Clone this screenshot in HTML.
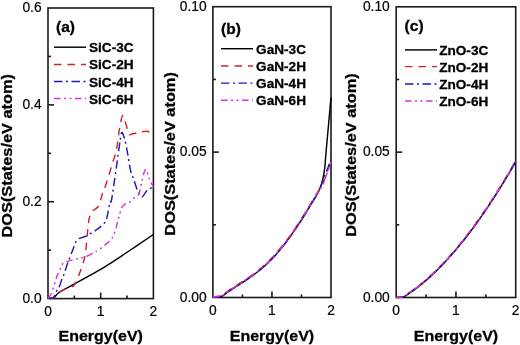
<!DOCTYPE html>
<html><head><meta charset="utf-8"><style>
html,body{margin:0;padding:0;background:#fff;}
svg{display:block;}
.t{font-family:"Liberation Sans",Arial,sans-serif;font-size:13.8px;fill:#000;stroke:#000;stroke-width:0.2px;}
.lg{font-family:"Liberation Sans",Arial,sans-serif;font-size:13.6px;font-weight:bold;fill:#000;stroke:#000;stroke-width:0.3px;}
.pl{font-family:"Liberation Sans",Arial,sans-serif;font-size:15.5px;font-weight:bold;fill:#000;stroke:#000;stroke-width:0.3px;}
.ti{font-family:"Liberation Sans",Arial,sans-serif;font-size:16.0px;font-weight:bold;fill:#000;stroke:#000;stroke-width:0.3px;}
</style></head><body>
<svg width="520" height="345" viewBox="0 0 520 345">
<rect width="520" height="345" fill="#fff"/>
<rect x="48" y="8" width="105.40" height="290.60" fill="none" stroke="#1a1a1a" stroke-width="1.6"/>
<line x1="74.35" y1="298.6" x2="74.35" y2="295.6" stroke="#1a1a1a" stroke-width="1.6"/>
<line x1="100.70" y1="298.6" x2="100.70" y2="292.6" stroke="#1a1a1a" stroke-width="1.6"/>
<line x1="127.05" y1="298.6" x2="127.05" y2="295.6" stroke="#1a1a1a" stroke-width="1.6"/>
<line x1="48" y1="201.73" x2="54" y2="201.73" stroke="#1a1a1a" stroke-width="1.6"/>
<line x1="48" y1="104.87" x2="54" y2="104.87" stroke="#1a1a1a" stroke-width="1.6"/>
<line x1="48" y1="250.17" x2="51" y2="250.17" stroke="#1a1a1a" stroke-width="1.6"/>
<line x1="48" y1="153.30" x2="51" y2="153.30" stroke="#1a1a1a" stroke-width="1.6"/>
<line x1="48" y1="56.43" x2="51" y2="56.43" stroke="#1a1a1a" stroke-width="1.6"/>
<text x="41.6" y="302.80" text-anchor="end" class="t">0.0</text>
<text x="41.6" y="205.93" text-anchor="end" class="t">0.2</text>
<text x="41.6" y="109.07" text-anchor="end" class="t">0.4</text>
<text x="41.6" y="12.20" text-anchor="end" class="t">0.6</text>
<text x="48.00" y="315.80" text-anchor="middle" class="t">0</text>
<text x="100.70" y="315.80" text-anchor="middle" class="t">1</text>
<text x="153.40" y="315.80" text-anchor="middle" class="t">2</text>
<text transform="translate(100.70,341.40) scale(1,0.95)" text-anchor="middle" class="ti">Energy(eV)</text>
<rect x="212.9" y="6.7" width="118.10" height="290.80" fill="none" stroke="#1a1a1a" stroke-width="1.6"/>
<line x1="242.43" y1="297.5" x2="242.43" y2="294.5" stroke="#1a1a1a" stroke-width="1.6"/>
<line x1="271.95" y1="297.5" x2="271.95" y2="291.5" stroke="#1a1a1a" stroke-width="1.6"/>
<line x1="301.48" y1="297.5" x2="301.48" y2="294.5" stroke="#1a1a1a" stroke-width="1.6"/>
<line x1="212.9" y1="152.10" x2="218.9" y2="152.10" stroke="#1a1a1a" stroke-width="1.6"/>
<line x1="212.9" y1="224.80" x2="215.9" y2="224.80" stroke="#1a1a1a" stroke-width="1.6"/>
<line x1="212.9" y1="79.40" x2="215.9" y2="79.40" stroke="#1a1a1a" stroke-width="1.6"/>
<text x="206.6" y="301.70" text-anchor="end" class="t">0.00</text>
<text x="206.6" y="156.30" text-anchor="end" class="t">0.05</text>
<text x="206.6" y="10.90" text-anchor="end" class="t">0.10</text>
<text x="212.90" y="314.70" text-anchor="middle" class="t">0</text>
<text x="271.95" y="314.70" text-anchor="middle" class="t">1</text>
<text x="331.00" y="314.70" text-anchor="middle" class="t">2</text>
<text transform="translate(271.95,341.40) scale(1,0.95)" text-anchor="middle" class="ti">Energy(eV)</text>
<rect x="396.2" y="6.8" width="119.50" height="290.70" fill="none" stroke="#1a1a1a" stroke-width="1.6"/>
<line x1="426.07" y1="297.5" x2="426.07" y2="294.5" stroke="#1a1a1a" stroke-width="1.6"/>
<line x1="455.95" y1="297.5" x2="455.95" y2="291.5" stroke="#1a1a1a" stroke-width="1.6"/>
<line x1="485.83" y1="297.5" x2="485.83" y2="294.5" stroke="#1a1a1a" stroke-width="1.6"/>
<line x1="396.2" y1="152.15" x2="402.2" y2="152.15" stroke="#1a1a1a" stroke-width="1.6"/>
<line x1="396.2" y1="224.82" x2="399.2" y2="224.82" stroke="#1a1a1a" stroke-width="1.6"/>
<line x1="396.2" y1="79.48" x2="399.2" y2="79.48" stroke="#1a1a1a" stroke-width="1.6"/>
<text x="389.8" y="301.70" text-anchor="end" class="t">0.00</text>
<text x="389.8" y="156.35" text-anchor="end" class="t">0.05</text>
<text x="389.8" y="11.00" text-anchor="end" class="t">0.10</text>
<text x="396.20" y="314.70" text-anchor="middle" class="t">0</text>
<text x="455.95" y="314.70" text-anchor="middle" class="t">1</text>
<text x="515.70" y="314.70" text-anchor="middle" class="t">2</text>
<text transform="translate(455.95,341.40) scale(1,0.95)" text-anchor="middle" class="ti">Energy(eV)</text>
<text transform="translate(11.7,155.8) rotate(-90) scale(1,0.94)" text-anchor="middle" class="ti" style="font-size:16.35px">DOS(States/eV atom)</text>
<text transform="translate(174.9,153.9) rotate(-90) scale(1,0.94)" text-anchor="middle" class="ti" style="font-size:16.35px">DOS(States/eV atom)</text>
<text transform="translate(356.4,155.0) rotate(-90) scale(1,0.94)" text-anchor="middle" class="ti" style="font-size:16.35px">DOS(States/eV atom)</text>
<text x="56" y="31.8" class="pl">(a)</text>
<text x="221" y="33.8" class="pl">(b)</text>
<text x="404.6" y="31.2" class="pl">(c)</text>
<line x1="54" y1="47.2" x2="86" y2="47.2" stroke="#000000" stroke-width="1.45" stroke-dasharray="none"/>
<text x="89.0" y="52.20" class="lg">SiC-3C</text>
<line x1="54" y1="64.4" x2="86" y2="64.4" stroke="#cc2434" stroke-width="1.45" stroke-dasharray="7.5 6"/>
<text x="89.0" y="69.40" class="lg">SiC-2H</text>
<line x1="54" y1="81.5" x2="86" y2="81.5" stroke="#1c1cb4" stroke-width="1.45" stroke-dasharray="8.5 3.5 2 3.5"/>
<text x="89.0" y="86.50" class="lg">SiC-4H</text>
<line x1="54" y1="98.5" x2="86" y2="98.5" stroke="#d434d4" stroke-width="1.45" stroke-dasharray="6.5 3.5 2 3.5 2 3.5"/>
<text x="89.0" y="103.50" class="lg">SiC-6H</text>
<line x1="221" y1="48.7" x2="253" y2="48.7" stroke="#000000" stroke-width="1.45" stroke-dasharray="none"/>
<text x="256.09999999999997" y="53.70" class="lg">GaN-3C</text>
<line x1="221" y1="66.0" x2="253" y2="66.0" stroke="#cc2434" stroke-width="1.45" stroke-dasharray="7.5 6"/>
<text x="256.09999999999997" y="71.00" class="lg">GaN-2H</text>
<line x1="221" y1="83.1" x2="253" y2="83.1" stroke="#1c1cb4" stroke-width="1.45" stroke-dasharray="8.5 3.5 2 3.5"/>
<text x="256.09999999999997" y="88.10" class="lg">GaN-4H</text>
<line x1="221" y1="100.2" x2="253" y2="100.2" stroke="#d434d4" stroke-width="1.45" stroke-dasharray="6.5 3.5 2 3.5 2 3.5"/>
<text x="256.09999999999997" y="105.20" class="lg">GaN-6H</text>
<line x1="405" y1="49.9" x2="437" y2="49.9" stroke="#000000" stroke-width="1.45" stroke-dasharray="none"/>
<text x="439.2" y="54.90" class="lg">ZnO-3C</text>
<line x1="405" y1="66.6" x2="437" y2="66.6" stroke="#cc2434" stroke-width="1.45" stroke-dasharray="7.5 6"/>
<text x="439.2" y="71.60" class="lg">ZnO-2H</text>
<line x1="405" y1="83.9" x2="437" y2="83.9" stroke="#1c1cb4" stroke-width="1.45" stroke-dasharray="8.5 3.5 2 3.5"/>
<text x="439.2" y="88.90" class="lg">ZnO-4H</text>
<line x1="405" y1="100.9" x2="437" y2="100.9" stroke="#d434d4" stroke-width="1.45" stroke-dasharray="6.5 3.5 2 3.5 2 3.5"/>
<text x="439.2" y="105.90" class="lg">ZnO-6H</text>
<path d="M48.20,298.30 C49.13,298.20 52.00,298.67 53.80,297.70 C55.60,296.73 56.30,294.38 59.00,292.50 C61.70,290.62 65.75,288.75 70.00,286.40 C74.25,284.05 78.70,281.67 84.50,278.40 C90.30,275.13 97.88,271.03 104.80,266.80 C111.72,262.57 117.90,258.38 126.00,253.00 C134.10,247.62 148.83,237.58 153.40,234.50" fill="none" stroke="#000000" stroke-width="1.45" stroke-linejoin="round" stroke-dasharray="none"/>
<path d="M48.20,298.30 C49.17,298.17 52.20,298.47 54.00,297.50 C55.80,296.53 56.33,294.32 59.00,292.50 C61.67,290.68 67.45,287.82 70.00,286.60 C72.55,285.38 72.50,287.97 74.30,285.20 C76.10,282.43 78.98,275.12 80.80,270.00 C82.62,264.88 84.03,261.28 85.20,254.50 C86.37,247.72 87.12,235.38 87.80,229.30 C88.48,223.22 88.53,221.02 89.30,218.00 C90.07,214.98 90.95,213.07 92.40,211.20 C93.85,209.33 96.60,208.73 98.00,206.80 C99.40,204.87 99.97,202.13 100.80,199.60 C101.63,197.07 102.22,193.90 103.00,191.60 C103.78,189.30 103.60,191.53 105.50,185.80 C107.40,180.07 112.55,163.17 114.40,157.20 C116.25,151.23 115.78,154.53 116.60,150.00 C117.42,145.47 118.35,135.67 119.30,130.00 C120.25,124.33 121.43,117.75 122.30,116.00 C123.17,114.25 123.80,117.83 124.50,119.50 C125.20,121.17 125.92,123.92 126.50,126.00 C127.08,128.08 127.48,130.53 128.00,132.00 C128.52,133.47 128.82,134.50 129.60,134.80 C130.38,135.10 131.08,134.22 132.70,133.80 C134.32,133.38 137.02,132.72 139.30,132.30 C141.58,131.88 144.62,131.27 146.40,131.30 C148.18,131.33 148.83,131.63 150.00,132.50 C151.17,133.37 152.83,135.83 153.40,136.50" fill="none" stroke="#cc2434" stroke-width="1.45" stroke-linejoin="round" stroke-dasharray="7.5 6"/>
<path d="M48.20,298.30 C49.07,298.22 52.03,298.97 53.40,297.80 C54.77,296.63 55.38,293.25 56.40,291.30 C57.42,289.35 58.55,288.20 59.50,286.10 C60.45,284.00 61.30,280.80 62.10,278.70 C62.90,276.60 63.37,276.12 64.30,273.50 C65.23,270.88 66.28,266.92 67.70,263.00 C69.12,259.08 71.22,253.85 72.80,250.00 C74.38,246.15 75.00,242.20 77.20,239.90 C79.40,237.60 82.93,237.78 86.00,236.20 C89.07,234.62 93.25,231.92 95.60,230.40 C97.95,228.88 98.50,228.50 100.10,227.10 C101.70,225.70 103.98,223.93 105.20,222.00 C106.42,220.07 106.80,217.78 107.40,215.50 C108.00,213.22 108.32,210.60 108.80,208.30 C109.28,206.00 109.77,203.52 110.30,201.70 C110.83,199.88 110.58,206.02 112.00,197.40 C113.42,188.78 117.38,159.90 118.80,150.00 C120.22,140.10 119.97,140.92 120.50,138.00 C121.03,135.08 121.27,132.17 122.00,132.50 C122.73,132.83 123.93,136.33 124.90,140.00 C125.87,143.67 126.83,149.30 127.80,154.50 C128.77,159.70 129.73,167.10 130.70,171.20 C131.67,175.30 132.63,176.33 133.60,179.10 C134.57,181.87 135.68,185.70 136.50,187.80 C137.32,189.90 137.62,190.17 138.50,191.70 C139.38,193.23 140.65,196.85 141.80,197.00 C142.95,197.15 144.43,193.82 145.40,192.60 C146.37,191.38 146.75,190.42 147.60,189.70 C148.45,188.98 149.53,188.75 150.50,188.30 C151.47,187.85 152.92,187.22 153.40,187.00" fill="none" stroke="#1c1cb4" stroke-width="1.45" stroke-linejoin="round" stroke-dasharray="8.5 3.5 2 3.5"/>
<path d="M48.20,298.30 C48.58,297.75 49.85,296.10 50.50,295.00 C51.15,293.90 51.55,293.18 52.10,291.70 C52.65,290.22 53.22,287.98 53.80,286.10 C54.38,284.22 55.02,282.22 55.60,280.40 C56.18,278.58 56.58,276.93 57.30,275.20 C58.02,273.47 59.12,271.78 59.90,270.00 C60.68,268.22 60.45,266.02 62.00,264.50 C63.55,262.98 66.07,261.98 69.20,260.90 C72.33,259.82 78.25,258.58 80.80,258.00 C83.35,257.42 82.43,258.23 84.50,257.40 C86.57,256.57 90.87,254.23 93.20,253.00 C95.53,251.77 95.70,252.07 98.50,250.00 C101.30,247.93 107.35,243.38 110.00,240.60 C112.65,237.82 113.18,236.23 114.40,233.30 C115.62,230.37 116.52,225.83 117.30,223.00 C118.08,220.17 118.42,218.77 119.10,216.30 C119.78,213.83 120.67,210.03 121.40,208.20 C122.13,206.37 122.73,206.07 123.50,205.30 C124.27,204.53 124.90,204.18 126.00,203.60 C127.10,203.02 128.63,202.87 130.10,201.80 C131.57,200.73 133.33,198.50 134.80,197.20 C136.27,195.90 137.87,195.97 138.90,194.00 C139.93,192.03 140.40,187.93 141.00,185.40 C141.60,182.87 142.02,180.87 142.50,178.80 C142.98,176.73 143.30,174.57 143.90,173.00 C144.50,171.43 145.37,168.90 146.10,169.40 C146.83,169.90 147.57,173.95 148.30,176.00 C149.03,178.05 149.65,179.95 150.50,181.70 C151.35,183.45 152.92,185.70 153.40,186.50" fill="none" stroke="#d434d4" stroke-width="1.45" stroke-linejoin="round" stroke-dasharray="6.5 3.5 2 3.5 2 3.5"/>
<path d="M213.00,297.30 C213.83,297.23 216.50,297.08 218.00,296.90 C219.50,296.72 221.00,296.53 222.00,296.20 C223.00,295.87 223.00,295.62 224.00,294.90 C225.00,294.18 226.33,293.07 228.00,291.90 C229.67,290.73 231.67,289.42 234.00,287.90 C236.33,286.38 239.33,284.50 242.00,282.75 C244.67,281.00 247.33,279.27 250.00,277.40 C252.67,275.52 255.33,273.62 258.00,271.50 C260.67,269.38 263.33,267.17 266.00,264.70 C268.67,262.23 271.33,259.58 274.00,256.70 C276.67,253.82 279.33,250.70 282.00,247.40 C284.67,244.10 287.33,240.60 290.00,236.90 C292.67,233.20 295.33,229.25 298.00,225.20 C300.67,221.15 303.33,216.90 306.00,212.60 C308.67,208.30 312.00,202.70 314.00,199.40 C316.00,196.10 316.68,195.60 318.00,192.80 C319.32,190.00 320.90,185.87 321.90,182.60 C322.90,179.33 323.47,176.22 324.00,173.20 C324.53,170.18 324.80,167.53 325.10,164.50 C325.40,161.47 324.82,166.17 325.80,155.00 C326.78,143.83 330.13,107.08 331.00,97.50" fill="none" stroke="#000000" stroke-width="1.45" stroke-linejoin="round" stroke-dasharray="none"/>
<path d="M212.60,296.70 C213.43,296.63 216.10,296.48 217.60,296.30 C219.10,296.12 220.60,295.93 221.60,295.60 C222.60,295.27 222.60,295.02 223.60,294.30 C224.60,293.58 225.93,292.47 227.60,291.30 C229.27,290.13 231.27,288.82 233.60,287.30 C235.93,285.77 238.93,283.90 241.60,282.15 C244.27,280.40 246.93,278.67 249.60,276.80 C252.27,274.92 254.93,273.02 257.60,270.90 C260.27,268.78 262.93,266.57 265.60,264.10 C268.27,261.63 270.93,258.98 273.60,256.10 C276.27,253.22 278.93,250.10 281.60,246.80 C284.27,243.50 286.93,240.00 289.60,236.30 C292.27,232.60 294.93,228.65 297.60,224.60 C300.27,220.55 302.93,216.30 305.60,212.00 C308.27,207.70 311.60,202.10 313.60,198.80 C315.60,195.50 316.18,194.43 317.60,192.20 C319.02,189.97 320.52,188.70 322.10,185.40 C323.68,182.10 325.68,176.32 327.10,172.40 C328.52,168.48 330.02,163.65 330.60,161.90" fill="none" stroke="#cc2434" stroke-width="1.45" stroke-linejoin="round" stroke-dasharray="7.5 6"/>
<path d="M213.00,297.30 C213.83,297.23 216.50,297.08 218.00,296.90 C219.50,296.72 221.00,296.53 222.00,296.20 C223.00,295.87 223.00,295.62 224.00,294.90 C225.00,294.18 226.33,293.07 228.00,291.90 C229.67,290.73 231.67,289.42 234.00,287.90 C236.33,286.38 239.33,284.50 242.00,282.75 C244.67,281.00 247.33,279.27 250.00,277.40 C252.67,275.52 255.33,273.62 258.00,271.50 C260.67,269.38 263.33,267.17 266.00,264.70 C268.67,262.23 271.33,259.58 274.00,256.70 C276.67,253.82 279.33,250.70 282.00,247.40 C284.67,244.10 287.33,240.60 290.00,236.90 C292.67,233.20 295.33,229.25 298.00,225.20 C300.67,221.15 303.33,216.90 306.00,212.60 C308.67,208.30 312.00,202.70 314.00,199.40 C316.00,196.10 316.70,195.37 318.00,192.80 C319.30,190.23 320.42,187.47 321.80,184.00 C323.18,180.53 324.77,176.08 326.30,172.00 C327.83,167.92 330.22,161.58 331.00,159.50" fill="none" stroke="#1c1cb4" stroke-width="1.45" stroke-linejoin="round" stroke-dasharray="8.5 3.5 2 3.5"/>
<path d="M212.80,297.00 C213.63,296.93 216.30,296.78 217.80,296.60 C219.30,296.42 220.80,296.23 221.80,295.90 C222.80,295.57 222.80,295.32 223.80,294.60 C224.80,293.88 226.13,292.77 227.80,291.60 C229.47,290.43 231.47,289.12 233.80,287.60 C236.13,286.07 239.13,284.20 241.80,282.45 C244.47,280.70 247.13,278.97 249.80,277.10 C252.47,275.22 255.13,273.32 257.80,271.20 C260.47,269.08 263.13,266.87 265.80,264.40 C268.47,261.93 271.13,259.28 273.80,256.40 C276.47,253.52 279.13,250.40 281.80,247.10 C284.47,243.80 287.13,240.30 289.80,236.60 C292.47,232.90 295.13,228.95 297.80,224.90 C300.47,220.85 303.13,216.60 305.80,212.30 C308.47,208.00 311.80,202.40 313.80,199.10 C315.80,195.80 316.38,194.73 317.80,192.50 C319.22,190.27 320.72,189.00 322.30,185.70 C323.88,182.40 325.88,176.62 327.30,172.70 C328.72,168.78 330.22,163.95 330.80,162.20" fill="none" stroke="#d434d4" stroke-width="1.45" stroke-linejoin="round" stroke-dasharray="6.5 3.5 2 3.5 2 3.5"/>
<path d="M396.40,297.60 C397.00,297.57 398.73,297.55 400.00,297.40 C401.27,297.25 402.67,297.25 404.00,296.70 C405.33,296.15 406.33,295.26 408.00,294.13 C409.67,293.00 412.00,291.40 414.00,289.94 C416.00,288.48 417.67,287.24 420.00,285.35 C422.33,283.46 425.33,280.97 428.00,278.61 C430.67,276.25 433.33,273.77 436.00,271.18 C438.67,268.59 441.33,265.88 444.00,263.06 C446.67,260.24 449.33,257.32 452.00,254.28 C454.67,251.24 457.33,248.09 460.00,244.84 C462.67,241.59 465.33,238.22 468.00,234.75 C470.67,231.28 473.33,227.70 476.00,224.02 C478.67,220.34 481.33,216.56 484.00,212.67 C486.67,208.78 489.33,204.79 492.00,200.70 C494.67,196.61 497.33,192.43 500.00,188.14 C502.67,183.85 505.38,179.38 508.00,174.98 C510.62,170.58 514.42,163.97 515.70,161.77" fill="none" stroke="#000000" stroke-width="1.45" stroke-linejoin="round" stroke-dasharray="none"/>
<path d="M396.00,297.20 C396.60,297.17 398.33,297.15 399.60,297.00 C400.87,296.85 402.27,296.85 403.60,296.30 C404.93,295.75 405.93,294.86 407.60,293.73 C409.27,292.60 411.60,291.00 413.60,289.54 C415.60,288.08 417.27,286.84 419.60,284.95 C421.93,283.06 424.93,280.57 427.60,278.21 C430.27,275.85 432.93,273.37 435.60,270.78 C438.27,268.19 440.93,265.48 443.60,262.66 C446.27,259.84 448.93,256.92 451.60,253.88 C454.27,250.84 456.93,247.69 459.60,244.44 C462.27,241.19 464.93,237.82 467.60,234.35 C470.27,230.88 472.93,227.30 475.60,223.62 C478.27,219.94 480.93,216.16 483.60,212.27 C486.27,208.38 488.93,204.39 491.60,200.30 C494.27,196.21 496.93,192.03 499.60,187.74 C502.27,183.45 504.98,178.97 507.60,174.58 C510.22,170.19 514.02,163.57 515.30,161.37" fill="none" stroke="#cc2434" stroke-width="1.45" stroke-linejoin="round" stroke-dasharray="7.5 6"/>
<path d="M396.40,297.60 C397.00,297.57 398.73,297.55 400.00,297.40 C401.27,297.25 402.67,297.25 404.00,296.70 C405.33,296.15 406.33,295.26 408.00,294.13 C409.67,293.00 412.00,291.40 414.00,289.94 C416.00,288.48 417.67,287.24 420.00,285.35 C422.33,283.46 425.33,280.97 428.00,278.61 C430.67,276.25 433.33,273.77 436.00,271.18 C438.67,268.59 441.33,265.88 444.00,263.06 C446.67,260.24 449.33,257.32 452.00,254.28 C454.67,251.24 457.33,248.09 460.00,244.84 C462.67,241.59 465.33,238.22 468.00,234.75 C470.67,231.28 473.33,227.70 476.00,224.02 C478.67,220.34 481.33,216.56 484.00,212.67 C486.67,208.78 489.33,204.79 492.00,200.70 C494.67,196.61 497.33,192.43 500.00,188.14 C502.67,183.85 505.38,179.38 508.00,174.98 C510.62,170.58 514.42,163.97 515.70,161.77" fill="none" stroke="#1c1cb4" stroke-width="1.45" stroke-linejoin="round" stroke-dasharray="8.5 3.5 2 3.5"/>
<path d="M396.20,297.40 C396.80,297.37 398.53,297.35 399.80,297.20 C401.07,297.05 402.47,297.05 403.80,296.50 C405.13,295.95 406.13,295.06 407.80,293.93 C409.47,292.80 411.80,291.20 413.80,289.74 C415.80,288.28 417.47,287.04 419.80,285.15 C422.13,283.26 425.13,280.77 427.80,278.41 C430.47,276.05 433.13,273.57 435.80,270.98 C438.47,268.39 441.13,265.68 443.80,262.86 C446.47,260.04 449.13,257.12 451.80,254.08 C454.47,251.04 457.13,247.90 459.80,244.64 C462.47,241.39 465.13,238.02 467.80,234.55 C470.47,231.08 473.13,227.50 475.80,223.82 C478.47,220.14 481.13,216.36 483.80,212.47 C486.47,208.58 489.13,204.59 491.80,200.50 C494.47,196.41 497.13,192.23 499.80,187.94 C502.47,183.65 505.18,179.18 507.80,174.78 C510.42,170.38 514.22,163.77 515.50,161.57" fill="none" stroke="#d434d4" stroke-width="1.45" stroke-linejoin="round" stroke-dasharray="6.5 3.5 2 3.5 2 3.5"/>
</svg>
</body></html>
